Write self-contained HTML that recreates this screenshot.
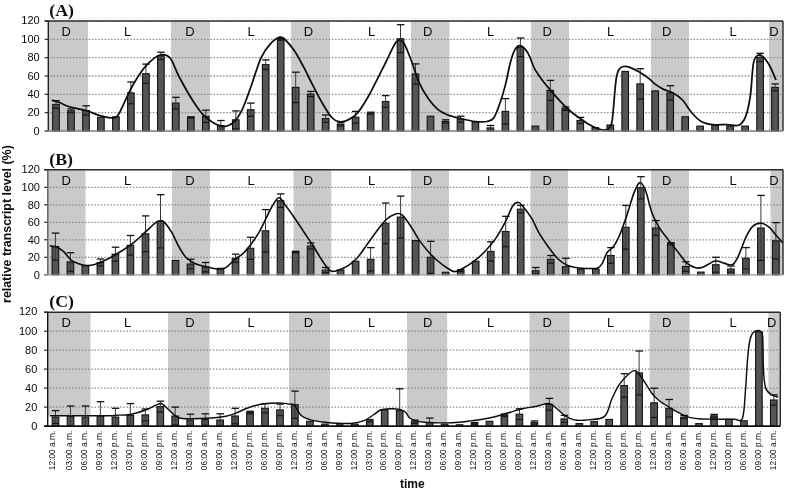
<!DOCTYPE html>
<html><head><meta charset="utf-8"><title>relative transcript level</title>
<style>html,body{margin:0;padding:0;background:#fff;}body{width:785px;height:491px;overflow:hidden;}svg{display:block;}.t{font-family:"Liberation Sans",Arial,sans-serif;fill:#0a0a0a;}.s{font-family:"Liberation Serif","Times New Roman",serif;font-weight:bold;fill:#111;}</style></head><body>
<svg width="785" height="491" viewBox="0 0 785 491">
<rect x="0" y="0" width="785" height="491" fill="#fff"/>
<line x1="50" y1="18.2" x2="782" y2="18.2" stroke="#e2e2e2" stroke-width="1" stroke-dasharray="1.5 1.7"/>
<g>
<rect x="48.3" y="21.0" width="39.7" height="110.0" fill="#cacaca"/>
<rect x="171.0" y="21.0" width="39.0" height="110.0" fill="#cacaca"/>
<rect x="291.0" y="21.0" width="39.0" height="110.0" fill="#cacaca"/>
<rect x="411.0" y="21.0" width="38.5" height="110.0" fill="#cacaca"/>
<rect x="531.0" y="21.0" width="38.0" height="110.0" fill="#cacaca"/>
<rect x="651.0" y="21.0" width="38.0" height="110.0" fill="#cacaca"/>
<rect x="769.0" y="21.0" width="14.0" height="110.0" fill="#cacaca"/>
<line x1="50.3" y1="112.7" x2="782.0" y2="112.7" stroke="#8a8a8a" stroke-width="1.3" stroke-dasharray="1.5 1.7"/>
<line x1="50.3" y1="94.3" x2="782.0" y2="94.3" stroke="#8a8a8a" stroke-width="1.3" stroke-dasharray="1.5 1.7"/>
<line x1="50.3" y1="76.0" x2="782.0" y2="76.0" stroke="#8a8a8a" stroke-width="1.3" stroke-dasharray="1.5 1.7"/>
<line x1="50.3" y1="57.7" x2="782.0" y2="57.7" stroke="#8a8a8a" stroke-width="1.3" stroke-dasharray="1.5 1.7"/>
<line x1="50.3" y1="39.3" x2="782.0" y2="39.3" stroke="#8a8a8a" stroke-width="1.3" stroke-dasharray="1.5 1.7"/>
<line x1="44.7" y1="131.0" x2="48.3" y2="131.0" stroke="#222" stroke-width="1.2"/>
<text class="t" transform="translate(39.7,134.8) scale(1.08,1)" font-size="10.2" text-anchor="end" fill="#000">0</text>
<line x1="44.7" y1="112.7" x2="48.3" y2="112.7" stroke="#222" stroke-width="1.2"/>
<text class="t" transform="translate(39.7,116.4) scale(1.08,1)" font-size="10.2" text-anchor="end" fill="#000">20</text>
<line x1="44.7" y1="94.3" x2="48.3" y2="94.3" stroke="#222" stroke-width="1.2"/>
<text class="t" transform="translate(39.7,98.1) scale(1.08,1)" font-size="10.2" text-anchor="end" fill="#000">40</text>
<line x1="44.7" y1="76.0" x2="48.3" y2="76.0" stroke="#222" stroke-width="1.2"/>
<text class="t" transform="translate(39.7,79.8) scale(1.08,1)" font-size="10.2" text-anchor="end" fill="#000">60</text>
<line x1="44.7" y1="57.7" x2="48.3" y2="57.7" stroke="#222" stroke-width="1.2"/>
<text class="t" transform="translate(39.7,61.4) scale(1.08,1)" font-size="10.2" text-anchor="end" fill="#000">80</text>
<line x1="44.7" y1="39.3" x2="48.3" y2="39.3" stroke="#222" stroke-width="1.2"/>
<text class="t" transform="translate(39.7,43.1) scale(1.08,1)" font-size="10.2" text-anchor="end" fill="#000">100</text>
<line x1="44.7" y1="21.0" x2="48.3" y2="21.0" stroke="#222" stroke-width="1.2"/>
<text class="t" transform="translate(39.7,23.8) scale(1.08,1)" font-size="10.2" text-anchor="end" fill="#000">120</text>
<text class="t" x="66.3" y="35.8" font-size="13" text-anchor="middle">D</text>
<text class="t" x="190.0" y="35.8" font-size="13" text-anchor="middle">D</text>
<text class="t" x="308.5" y="35.8" font-size="13" text-anchor="middle">D</text>
<text class="t" x="427.8" y="35.8" font-size="13" text-anchor="middle">D</text>
<text class="t" x="547.3" y="35.8" font-size="13" text-anchor="middle">D</text>
<text class="t" x="666.8" y="35.8" font-size="13" text-anchor="middle">D</text>
<text class="t" x="774.0" y="35.8" font-size="13" text-anchor="middle">D</text>
<text class="t" x="127.6" y="35.8" font-size="13" text-anchor="middle">L</text>
<text class="t" x="251.0" y="35.8" font-size="13" text-anchor="middle">L</text>
<text class="t" x="371.7" y="35.8" font-size="13" text-anchor="middle">L</text>
<text class="t" x="490.5" y="35.8" font-size="13" text-anchor="middle">L</text>
<text class="t" x="610.5" y="35.8" font-size="13" text-anchor="middle">L</text>
<text class="t" x="733.0" y="35.8" font-size="13" text-anchor="middle">L</text>
<rect x="52.7" y="104.4" width="6.6" height="26.6" fill="#555555" stroke="#111" stroke-width="1.1"/>
<line x1="56.0" y1="100.8" x2="56.0" y2="108.1" stroke="#3a3a3a" stroke-width="1"/>
<line x1="52.4" y1="100.8" x2="59.9" y2="100.8" stroke="#111" stroke-width="1.3"/>
<line x1="52.9" y1="108.1" x2="59.1" y2="108.1" stroke="#111" stroke-width="1.1"/>
<rect x="67.7" y="110.8" width="6.6" height="20.2" fill="#555555" stroke="#111" stroke-width="1.1"/>
<line x1="71.0" y1="109.0" x2="71.0" y2="112.7" stroke="#3a3a3a" stroke-width="1"/>
<line x1="67.4" y1="109.0" x2="74.9" y2="109.0" stroke="#111" stroke-width="1.3"/>
<line x1="67.9" y1="112.7" x2="74.1" y2="112.7" stroke="#111" stroke-width="1.1"/>
<rect x="82.7" y="110.5" width="6.6" height="20.5" fill="#555555" stroke="#111" stroke-width="1.1"/>
<line x1="86.0" y1="105.8" x2="86.0" y2="115.1" stroke="#3a3a3a" stroke-width="1"/>
<line x1="82.4" y1="105.8" x2="89.9" y2="105.8" stroke="#111" stroke-width="1.3"/>
<line x1="82.9" y1="115.1" x2="89.1" y2="115.1" stroke="#111" stroke-width="1.1"/>
<rect x="97.6" y="117.2" width="6.6" height="13.8" fill="#555555" stroke="#111" stroke-width="1.1"/>
<rect x="112.6" y="116.8" width="6.6" height="14.2" fill="#555555" stroke="#111" stroke-width="1.1"/>
<rect x="127.6" y="92.9" width="6.6" height="38.1" fill="#555555" stroke="#111" stroke-width="1.1"/>
<line x1="130.9" y1="82.0" x2="130.9" y2="103.8" stroke="#3a3a3a" stroke-width="1"/>
<line x1="127.3" y1="82.0" x2="134.8" y2="82.0" stroke="#111" stroke-width="1.3"/>
<line x1="127.8" y1="103.8" x2="134.0" y2="103.8" stroke="#111" stroke-width="1.1"/>
<rect x="142.6" y="73.7" width="6.6" height="57.3" fill="#555555" stroke="#111" stroke-width="1.1"/>
<line x1="145.9" y1="64.1" x2="145.9" y2="83.3" stroke="#3a3a3a" stroke-width="1"/>
<line x1="142.3" y1="64.1" x2="149.8" y2="64.1" stroke="#111" stroke-width="1.3"/>
<line x1="142.8" y1="83.3" x2="149.0" y2="83.3" stroke="#111" stroke-width="1.1"/>
<rect x="157.6" y="55.8" width="6.6" height="75.2" fill="#555555" stroke="#111" stroke-width="1.1"/>
<line x1="160.9" y1="52.2" x2="160.9" y2="59.5" stroke="#3a3a3a" stroke-width="1"/>
<line x1="157.3" y1="52.2" x2="164.8" y2="52.2" stroke="#111" stroke-width="1.3"/>
<line x1="157.8" y1="59.5" x2="164.0" y2="59.5" stroke="#111" stroke-width="1.1"/>
<rect x="172.5" y="103.1" width="6.6" height="27.9" fill="#555555" stroke="#111" stroke-width="1.1"/>
<line x1="175.8" y1="97.3" x2="175.8" y2="109.0" stroke="#3a3a3a" stroke-width="1"/>
<line x1="172.2" y1="97.3" x2="179.7" y2="97.3" stroke="#111" stroke-width="1.3"/>
<line x1="172.7" y1="109.0" x2="178.9" y2="109.0" stroke="#111" stroke-width="1.1"/>
<rect x="187.5" y="117.4" width="6.6" height="13.6" fill="#555555" stroke="#111" stroke-width="1.1"/>
<line x1="190.8" y1="116.8" x2="190.8" y2="118.1" stroke="#3a3a3a" stroke-width="1"/>
<line x1="187.2" y1="116.8" x2="194.7" y2="116.8" stroke="#111" stroke-width="1.3"/>
<line x1="187.7" y1="118.1" x2="193.9" y2="118.1" stroke="#111" stroke-width="1.1"/>
<rect x="202.5" y="116.3" width="6.6" height="14.7" fill="#555555" stroke="#111" stroke-width="1.1"/>
<line x1="205.8" y1="110.2" x2="205.8" y2="122.5" stroke="#3a3a3a" stroke-width="1"/>
<line x1="202.2" y1="110.2" x2="209.7" y2="110.2" stroke="#111" stroke-width="1.3"/>
<line x1="202.7" y1="122.5" x2="208.9" y2="122.5" stroke="#111" stroke-width="1.1"/>
<rect x="217.5" y="125.5" width="6.6" height="5.5" fill="#555555" stroke="#111" stroke-width="1.1"/>
<line x1="220.8" y1="120.5" x2="220.8" y2="130.4" stroke="#3a3a3a" stroke-width="1"/>
<line x1="217.2" y1="120.5" x2="224.7" y2="120.5" stroke="#111" stroke-width="1.3"/>
<line x1="217.7" y1="130.4" x2="223.9" y2="130.4" stroke="#111" stroke-width="1.1"/>
<rect x="232.5" y="119.8" width="6.6" height="11.2" fill="#555555" stroke="#111" stroke-width="1.1"/>
<line x1="235.8" y1="110.9" x2="235.8" y2="128.7" stroke="#3a3a3a" stroke-width="1"/>
<line x1="232.2" y1="110.9" x2="239.7" y2="110.9" stroke="#111" stroke-width="1.3"/>
<line x1="232.7" y1="128.7" x2="238.9" y2="128.7" stroke="#111" stroke-width="1.1"/>
<rect x="247.4" y="109.7" width="6.6" height="21.3" fill="#555555" stroke="#111" stroke-width="1.1"/>
<line x1="250.7" y1="103.1" x2="250.7" y2="116.3" stroke="#3a3a3a" stroke-width="1"/>
<line x1="247.1" y1="103.1" x2="254.6" y2="103.1" stroke="#111" stroke-width="1.3"/>
<line x1="247.6" y1="116.3" x2="253.8" y2="116.3" stroke="#111" stroke-width="1.1"/>
<rect x="262.4" y="64.6" width="6.6" height="66.4" fill="#555555" stroke="#111" stroke-width="1.1"/>
<line x1="265.7" y1="59.9" x2="265.7" y2="69.4" stroke="#3a3a3a" stroke-width="1"/>
<line x1="262.1" y1="59.9" x2="269.6" y2="59.9" stroke="#111" stroke-width="1.3"/>
<line x1="262.6" y1="69.4" x2="268.8" y2="69.4" stroke="#111" stroke-width="1.1"/>
<rect x="277.4" y="39.3" width="6.6" height="91.7" fill="#555555" stroke="#111" stroke-width="1.1"/>
<line x1="280.7" y1="38.4" x2="280.7" y2="40.2" stroke="#3a3a3a" stroke-width="1"/>
<line x1="277.1" y1="38.4" x2="284.6" y2="38.4" stroke="#111" stroke-width="1.3"/>
<line x1="277.6" y1="40.2" x2="283.8" y2="40.2" stroke="#111" stroke-width="1.1"/>
<rect x="292.4" y="87.4" width="6.6" height="43.6" fill="#555555" stroke="#111" stroke-width="1.1"/>
<line x1="295.7" y1="72.2" x2="295.7" y2="102.6" stroke="#3a3a3a" stroke-width="1"/>
<line x1="292.1" y1="72.2" x2="299.6" y2="72.2" stroke="#111" stroke-width="1.3"/>
<line x1="292.6" y1="102.6" x2="298.8" y2="102.6" stroke="#111" stroke-width="1.1"/>
<rect x="307.4" y="94.0" width="6.6" height="37.0" fill="#555555" stroke="#111" stroke-width="1.1"/>
<line x1="310.7" y1="91.4" x2="310.7" y2="96.5" stroke="#3a3a3a" stroke-width="1"/>
<line x1="307.1" y1="91.4" x2="314.6" y2="91.4" stroke="#111" stroke-width="1.3"/>
<line x1="307.6" y1="96.5" x2="313.8" y2="96.5" stroke="#111" stroke-width="1.1"/>
<rect x="322.3" y="118.6" width="6.6" height="12.4" fill="#555555" stroke="#111" stroke-width="1.1"/>
<line x1="325.6" y1="115.0" x2="325.6" y2="122.3" stroke="#3a3a3a" stroke-width="1"/>
<line x1="322.0" y1="115.0" x2="329.5" y2="115.0" stroke="#111" stroke-width="1.3"/>
<line x1="322.5" y1="122.3" x2="328.7" y2="122.3" stroke="#111" stroke-width="1.1"/>
<rect x="337.3" y="124.4" width="6.6" height="6.6" fill="#555555" stroke="#111" stroke-width="1.1"/>
<line x1="340.6" y1="122.8" x2="340.6" y2="126.0" stroke="#3a3a3a" stroke-width="1"/>
<line x1="337.0" y1="122.8" x2="344.5" y2="122.8" stroke="#111" stroke-width="1.3"/>
<line x1="337.5" y1="126.0" x2="343.7" y2="126.0" stroke="#111" stroke-width="1.1"/>
<rect x="352.3" y="117.2" width="6.6" height="13.8" fill="#555555" stroke="#111" stroke-width="1.1"/>
<line x1="355.6" y1="111.4" x2="355.6" y2="123.1" stroke="#3a3a3a" stroke-width="1"/>
<line x1="352.0" y1="111.4" x2="359.5" y2="111.4" stroke="#111" stroke-width="1.3"/>
<line x1="352.5" y1="123.1" x2="358.7" y2="123.1" stroke="#111" stroke-width="1.1"/>
<rect x="367.3" y="113.2" width="6.6" height="17.8" fill="#555555" stroke="#111" stroke-width="1.1"/>
<line x1="370.6" y1="112.2" x2="370.6" y2="114.2" stroke="#3a3a3a" stroke-width="1"/>
<line x1="367.0" y1="112.2" x2="374.5" y2="112.2" stroke="#111" stroke-width="1.3"/>
<line x1="367.5" y1="114.2" x2="373.7" y2="114.2" stroke="#111" stroke-width="1.1"/>
<rect x="382.3" y="101.5" width="6.6" height="29.5" fill="#555555" stroke="#111" stroke-width="1.1"/>
<line x1="385.6" y1="95.6" x2="385.6" y2="107.3" stroke="#3a3a3a" stroke-width="1"/>
<line x1="382.0" y1="95.6" x2="389.5" y2="95.6" stroke="#111" stroke-width="1.3"/>
<line x1="382.5" y1="107.3" x2="388.7" y2="107.3" stroke="#111" stroke-width="1.1"/>
<rect x="397.2" y="38.7" width="6.6" height="92.3" fill="#555555" stroke="#111" stroke-width="1.1"/>
<line x1="400.5" y1="24.7" x2="400.5" y2="52.7" stroke="#3a3a3a" stroke-width="1"/>
<line x1="396.9" y1="24.7" x2="404.4" y2="24.7" stroke="#111" stroke-width="1.3"/>
<line x1="397.4" y1="52.7" x2="403.6" y2="52.7" stroke="#111" stroke-width="1.1"/>
<rect x="412.2" y="74.0" width="6.6" height="57.0" fill="#555555" stroke="#111" stroke-width="1.1"/>
<line x1="415.5" y1="63.9" x2="415.5" y2="84.1" stroke="#3a3a3a" stroke-width="1"/>
<line x1="411.9" y1="63.9" x2="419.4" y2="63.9" stroke="#111" stroke-width="1.3"/>
<line x1="412.4" y1="84.1" x2="418.6" y2="84.1" stroke="#111" stroke-width="1.1"/>
<rect x="427.2" y="116.2" width="6.6" height="14.8" fill="#555555" stroke="#111" stroke-width="1.1"/>
<rect x="442.2" y="121.5" width="6.6" height="9.5" fill="#555555" stroke="#111" stroke-width="1.1"/>
<line x1="445.5" y1="119.8" x2="445.5" y2="123.1" stroke="#3a3a3a" stroke-width="1"/>
<line x1="441.9" y1="119.8" x2="449.4" y2="119.8" stroke="#111" stroke-width="1.3"/>
<line x1="442.4" y1="123.1" x2="448.6" y2="123.1" stroke="#111" stroke-width="1.1"/>
<rect x="457.2" y="119.2" width="6.6" height="11.8" fill="#555555" stroke="#111" stroke-width="1.1"/>
<line x1="460.5" y1="116.2" x2="460.5" y2="122.2" stroke="#3a3a3a" stroke-width="1"/>
<line x1="456.9" y1="116.2" x2="464.4" y2="116.2" stroke="#111" stroke-width="1.3"/>
<line x1="457.4" y1="122.2" x2="463.6" y2="122.2" stroke="#111" stroke-width="1.1"/>
<rect x="472.1" y="121.9" width="6.6" height="9.1" fill="#555555" stroke="#111" stroke-width="1.1"/>
<rect x="487.1" y="127.9" width="6.6" height="3.1" fill="#555555" stroke="#111" stroke-width="1.1"/>
<line x1="490.4" y1="125.5" x2="490.4" y2="130.3" stroke="#3a3a3a" stroke-width="1"/>
<line x1="486.8" y1="125.5" x2="494.3" y2="125.5" stroke="#111" stroke-width="1.3"/>
<line x1="487.3" y1="130.3" x2="493.5" y2="130.3" stroke="#111" stroke-width="1.1"/>
<rect x="502.1" y="111.4" width="6.6" height="19.6" fill="#555555" stroke="#111" stroke-width="1.1"/>
<line x1="505.4" y1="98.6" x2="505.4" y2="124.1" stroke="#3a3a3a" stroke-width="1"/>
<line x1="501.8" y1="98.6" x2="509.3" y2="98.6" stroke="#111" stroke-width="1.3"/>
<line x1="502.3" y1="124.1" x2="508.5" y2="124.1" stroke="#111" stroke-width="1.1"/>
<rect x="517.1" y="47.4" width="6.6" height="83.6" fill="#555555" stroke="#111" stroke-width="1.1"/>
<line x1="520.4" y1="38.0" x2="520.4" y2="56.8" stroke="#3a3a3a" stroke-width="1"/>
<line x1="516.8" y1="38.0" x2="524.3" y2="38.0" stroke="#111" stroke-width="1.3"/>
<line x1="517.3" y1="56.8" x2="523.5" y2="56.8" stroke="#111" stroke-width="1.1"/>
<rect x="532.1" y="126.1" width="6.6" height="4.9" fill="#555555" stroke="#111" stroke-width="1.1"/>
<rect x="547.0" y="90.4" width="6.6" height="40.6" fill="#555555" stroke="#111" stroke-width="1.1"/>
<line x1="550.3" y1="80.4" x2="550.3" y2="100.4" stroke="#3a3a3a" stroke-width="1"/>
<line x1="546.7" y1="80.4" x2="554.2" y2="80.4" stroke="#111" stroke-width="1.3"/>
<line x1="547.2" y1="100.4" x2="553.4" y2="100.4" stroke="#111" stroke-width="1.1"/>
<rect x="562.0" y="108.6" width="6.6" height="22.4" fill="#555555" stroke="#111" stroke-width="1.1"/>
<line x1="565.3" y1="106.9" x2="565.3" y2="110.4" stroke="#3a3a3a" stroke-width="1"/>
<line x1="561.7" y1="106.9" x2="569.2" y2="106.9" stroke="#111" stroke-width="1.3"/>
<line x1="562.2" y1="110.4" x2="568.4" y2="110.4" stroke="#111" stroke-width="1.1"/>
<rect x="577.0" y="120.4" width="6.6" height="10.6" fill="#555555" stroke="#111" stroke-width="1.1"/>
<line x1="580.3" y1="117.4" x2="580.3" y2="123.3" stroke="#3a3a3a" stroke-width="1"/>
<line x1="576.7" y1="117.4" x2="584.2" y2="117.4" stroke="#111" stroke-width="1.3"/>
<line x1="577.2" y1="123.3" x2="583.4" y2="123.3" stroke="#111" stroke-width="1.1"/>
<rect x="592.0" y="127.6" width="6.6" height="3.4" fill="#555555" stroke="#111" stroke-width="1.1"/>
<rect x="607.0" y="125.0" width="6.6" height="6.0" fill="#555555" stroke="#111" stroke-width="1.1"/>
<rect x="621.9" y="71.4" width="6.6" height="59.6" fill="#555555" stroke="#111" stroke-width="1.1"/>
<rect x="636.9" y="83.9" width="6.6" height="47.1" fill="#555555" stroke="#111" stroke-width="1.1"/>
<line x1="640.2" y1="68.7" x2="640.2" y2="99.1" stroke="#3a3a3a" stroke-width="1"/>
<line x1="636.6" y1="68.7" x2="644.1" y2="68.7" stroke="#111" stroke-width="1.3"/>
<line x1="637.1" y1="99.1" x2="643.3" y2="99.1" stroke="#111" stroke-width="1.1"/>
<rect x="651.9" y="90.9" width="6.6" height="40.1" fill="#555555" stroke="#111" stroke-width="1.1"/>
<rect x="666.9" y="92.9" width="6.6" height="38.1" fill="#555555" stroke="#111" stroke-width="1.1"/>
<line x1="670.2" y1="85.7" x2="670.2" y2="100.0" stroke="#3a3a3a" stroke-width="1"/>
<line x1="666.6" y1="85.7" x2="674.1" y2="85.7" stroke="#111" stroke-width="1.3"/>
<line x1="667.1" y1="100.0" x2="673.3" y2="100.0" stroke="#111" stroke-width="1.1"/>
<rect x="681.9" y="116.8" width="6.6" height="14.2" fill="#555555" stroke="#111" stroke-width="1.1"/>
<rect x="696.8" y="126.1" width="6.6" height="4.9" fill="#555555" stroke="#111" stroke-width="1.1"/>
<rect x="711.8" y="125.0" width="6.6" height="6.0" fill="#555555" stroke="#111" stroke-width="1.1"/>
<rect x="726.8" y="126.1" width="6.6" height="4.9" fill="#555555" stroke="#111" stroke-width="1.1"/>
<rect x="741.8" y="126.1" width="6.6" height="4.9" fill="#555555" stroke="#111" stroke-width="1.1"/>
<rect x="756.8" y="57.5" width="6.6" height="73.5" fill="#555555" stroke="#111" stroke-width="1.1"/>
<line x1="760.1" y1="53.3" x2="760.1" y2="61.7" stroke="#3a3a3a" stroke-width="1"/>
<line x1="756.5" y1="53.3" x2="764.0" y2="53.3" stroke="#111" stroke-width="1.3"/>
<line x1="757.0" y1="61.7" x2="763.2" y2="61.7" stroke="#111" stroke-width="1.1"/>
<rect x="771.7" y="87.4" width="6.6" height="43.6" fill="#555555" stroke="#111" stroke-width="1.1"/>
<line x1="775.0" y1="83.9" x2="775.0" y2="90.8" stroke="#3a3a3a" stroke-width="1"/>
<line x1="771.4" y1="83.9" x2="778.9" y2="83.9" stroke="#111" stroke-width="1.3"/>
<line x1="771.9" y1="90.8" x2="778.1" y2="90.8" stroke="#111" stroke-width="1.1"/>
<path d="M51.8,100.2 C53.2,100.6 57.2,101.8 60.0,102.8 C62.8,103.8 64.1,105.2 68.4,106.5 C72.7,107.8 80.6,108.9 86.0,110.5 C91.4,112.1 96.1,114.7 101.0,115.9 C105.9,117.1 111.8,119.0 115.3,117.5 C118.8,116.0 120.0,111.3 122.3,107.0 C124.6,102.7 126.6,97.1 129.3,91.8 C132.0,86.5 135.6,80.1 138.7,75.4 C141.8,70.7 144.5,67.1 148.0,63.7 C151.5,60.3 156.1,56.0 159.8,55.0 C163.5,54.0 166.8,54.2 170.0,57.8 C173.2,61.4 175.2,69.3 179.0,76.5 C182.8,83.7 188.7,94.3 193.0,101.0 C197.3,107.7 200.1,112.2 204.8,116.4 C209.5,120.6 216.5,125.1 221.2,126.2 C225.9,127.3 229.4,125.7 232.9,122.9 C236.4,120.1 239.2,115.7 242.3,109.3 C245.4,102.9 248.5,93.3 251.6,84.7 C254.7,76.1 257.9,64.6 261.0,57.8 C264.1,51.0 267.3,47.2 270.4,43.8 C273.5,40.4 277.4,37.9 279.8,37.2 C282.2,36.5 282.6,37.2 285.0,39.5 C287.4,41.8 291.3,46.2 294.4,50.8 C297.5,55.4 300.6,61.4 303.7,67.2 C306.8,73.1 310.0,79.9 313.1,85.9 C316.2,92.0 319.4,98.2 322.5,103.5 C325.6,108.8 329.1,114.5 331.8,117.5 C334.5,120.5 336.2,121.3 338.9,121.7 C341.6,122.1 345.1,121.4 348.2,119.9 C351.3,118.4 354.5,116.3 357.6,112.8 C360.7,109.3 363.9,104.1 367.0,98.8 C370.1,93.5 373.2,87.2 376.3,81.2 C379.4,75.2 382.6,68.7 385.7,62.5 C388.8,56.3 392.6,47.5 395.0,43.8 C397.4,40.1 398.2,40.1 399.8,40.2 C401.4,40.3 402.4,40.5 404.4,44.2 C406.4,47.9 409.6,56.1 412.0,62.5 C414.4,68.9 416.3,76.4 419.0,82.4 C421.7,88.5 425.3,94.3 428.4,98.8 C431.5,103.3 434.7,106.6 437.8,109.3 C440.9,112.0 443.3,113.1 447.2,114.7 C451.1,116.3 456.5,117.6 461.2,118.7 C465.9,119.8 471.0,121.0 475.3,121.5 C479.6,122.0 483.9,122.2 487.0,121.5 C490.1,120.8 491.7,121.1 494.0,117.5 C496.3,113.9 499.1,105.7 501.0,100.0 C502.9,94.3 504.1,89.8 505.7,83.6 C507.3,77.3 508.8,68.2 510.4,62.5 C511.9,56.8 513.4,52.4 515.0,49.6 C516.6,46.8 518.0,45.6 519.8,45.6 C521.6,45.6 524.0,47.8 525.6,49.6 C527.2,51.4 528.2,53.5 529.7,56.6 C531.2,59.7 532.5,64.7 534.4,68.4 C536.3,72.1 538.7,75.2 541.4,78.9 C544.1,82.6 547.7,86.9 550.8,90.6 C553.9,94.3 557.0,97.8 560.1,101.1 C563.2,104.4 566.4,107.8 569.5,110.5 C572.6,113.2 575.8,115.3 578.9,117.5 C582.0,119.7 585.1,122.1 588.2,123.9 C591.3,125.7 595.1,127.5 597.6,128.5 C600.1,129.5 601.3,129.9 603.0,130.0 C604.7,130.1 606.6,130.0 608.0,129.0 C609.4,128.0 610.6,127.2 611.5,124.0 C612.4,120.8 612.8,115.3 613.3,110.0 C613.8,104.7 614.3,97.5 614.8,92.0 C615.3,86.5 615.8,80.8 616.5,77.0 C617.2,73.2 617.9,71.2 619.0,69.5 C620.1,67.8 621.5,66.8 623.4,66.5 C625.3,66.2 627.7,66.6 630.4,67.6 C633.1,68.6 636.5,70.3 639.8,72.3 C643.1,74.3 647.6,77.5 650.0,79.4 C652.4,81.3 652.1,81.9 654.4,83.6 C656.7,85.3 660.6,87.8 663.7,89.4 C666.8,91.0 670.0,91.2 673.1,93.0 C676.2,94.8 679.4,96.7 682.5,100.0 C685.6,103.3 688.7,109.2 691.8,112.8 C694.9,116.4 697.7,119.5 701.2,121.5 C704.7,123.5 708.6,124.1 712.9,124.6 C717.2,125.1 722.7,124.5 727.0,124.6 C731.3,124.7 735.6,126.7 738.7,125.3 C741.8,123.9 743.8,121.4 745.7,116.4 C747.7,111.4 749.1,103.9 750.4,95.3 C751.6,86.7 752.2,71.2 753.2,64.8 C754.2,58.3 754.7,58.1 756.2,56.6 C757.7,55.1 760.0,54.5 762.1,55.9 C764.2,57.3 766.8,60.8 769.1,64.8 C771.4,68.8 774.9,77.5 776.0,80.0" fill="none" stroke="#0d0d0d" stroke-width="1.75" stroke-linejoin="round"/>
<line x1="44.7" y1="21.0" x2="783.0" y2="21.0" stroke="#2a2a2a" stroke-width="1.6"/>
<line x1="783.0" y1="21.0" x2="783.0" y2="131.0" stroke="#2a2a2a" stroke-width="1.4"/>
<line x1="48.3" y1="21.0" x2="48.3" y2="131.0" stroke="#222" stroke-width="1.4"/>
<line x1="44.7" y1="131.0" x2="783.0" y2="131.0" stroke="#7a7a7a" stroke-width="1.4"/>
<text class="s" transform="translate(49.3,15.5) scale(1.1,1)" font-size="16.2">(A)</text>
</g>
<g>
<rect x="47.8" y="169.8" width="37.7" height="105.0" fill="#cacaca"/>
<rect x="172.0" y="169.8" width="38.0" height="105.0" fill="#cacaca"/>
<rect x="293.5" y="169.8" width="37.9" height="105.0" fill="#cacaca"/>
<rect x="411.0" y="169.8" width="38.0" height="105.0" fill="#cacaca"/>
<rect x="530.5" y="169.8" width="37.5" height="105.0" fill="#cacaca"/>
<rect x="651.0" y="169.8" width="38.0" height="105.0" fill="#cacaca"/>
<rect x="770.5" y="169.8" width="12.5" height="105.0" fill="#cacaca"/>
<line x1="49.8" y1="257.3" x2="782.0" y2="257.3" stroke="#8a8a8a" stroke-width="1.3" stroke-dasharray="1.5 1.7"/>
<line x1="49.8" y1="239.8" x2="782.0" y2="239.8" stroke="#8a8a8a" stroke-width="1.3" stroke-dasharray="1.5 1.7"/>
<line x1="49.8" y1="222.3" x2="782.0" y2="222.3" stroke="#8a8a8a" stroke-width="1.3" stroke-dasharray="1.5 1.7"/>
<line x1="49.8" y1="204.8" x2="782.0" y2="204.8" stroke="#8a8a8a" stroke-width="1.3" stroke-dasharray="1.5 1.7"/>
<line x1="49.8" y1="187.3" x2="782.0" y2="187.3" stroke="#8a8a8a" stroke-width="1.3" stroke-dasharray="1.5 1.7"/>
<line x1="44.2" y1="274.8" x2="47.8" y2="274.8" stroke="#222" stroke-width="1.2"/>
<text class="t" transform="translate(39.9,278.6) scale(1.08,1)" font-size="10.2" text-anchor="end" fill="#000">0</text>
<line x1="44.2" y1="257.3" x2="47.8" y2="257.3" stroke="#222" stroke-width="1.2"/>
<text class="t" transform="translate(39.9,261.1) scale(1.08,1)" font-size="10.2" text-anchor="end" fill="#000">20</text>
<line x1="44.2" y1="239.8" x2="47.8" y2="239.8" stroke="#222" stroke-width="1.2"/>
<text class="t" transform="translate(39.9,243.6) scale(1.08,1)" font-size="10.2" text-anchor="end" fill="#000">40</text>
<line x1="44.2" y1="222.3" x2="47.8" y2="222.3" stroke="#222" stroke-width="1.2"/>
<text class="t" transform="translate(39.9,226.1) scale(1.08,1)" font-size="10.2" text-anchor="end" fill="#000">60</text>
<line x1="44.2" y1="204.8" x2="47.8" y2="204.8" stroke="#222" stroke-width="1.2"/>
<text class="t" transform="translate(39.9,208.6) scale(1.08,1)" font-size="10.2" text-anchor="end" fill="#000">80</text>
<line x1="44.2" y1="187.3" x2="47.8" y2="187.3" stroke="#222" stroke-width="1.2"/>
<text class="t" transform="translate(39.9,191.1) scale(1.08,1)" font-size="10.2" text-anchor="end" fill="#000">100</text>
<line x1="44.2" y1="169.8" x2="47.8" y2="169.8" stroke="#222" stroke-width="1.2"/>
<text class="t" transform="translate(39.9,172.6) scale(1.08,1)" font-size="10.2" text-anchor="end" fill="#000">120</text>
<text class="t" x="66.3" y="184.6" font-size="13" text-anchor="middle">D</text>
<text class="t" x="190.0" y="184.6" font-size="13" text-anchor="middle">D</text>
<text class="t" x="308.5" y="184.6" font-size="13" text-anchor="middle">D</text>
<text class="t" x="427.8" y="184.6" font-size="13" text-anchor="middle">D</text>
<text class="t" x="547.3" y="184.6" font-size="13" text-anchor="middle">D</text>
<text class="t" x="666.8" y="184.6" font-size="13" text-anchor="middle">D</text>
<text class="t" x="774.0" y="184.6" font-size="13" text-anchor="middle">D</text>
<text class="t" x="127.6" y="184.6" font-size="13" text-anchor="middle">L</text>
<text class="t" x="251.0" y="184.6" font-size="13" text-anchor="middle">L</text>
<text class="t" x="371.7" y="184.6" font-size="13" text-anchor="middle">L</text>
<text class="t" x="490.5" y="184.6" font-size="13" text-anchor="middle">L</text>
<text class="t" x="610.5" y="184.6" font-size="13" text-anchor="middle">L</text>
<text class="t" x="733.0" y="184.6" font-size="13" text-anchor="middle">L</text>
<rect x="52.1" y="246.5" width="6.6" height="28.3" fill="#555555" stroke="#111" stroke-width="1.1"/>
<line x1="55.4" y1="233.1" x2="55.4" y2="260.0" stroke="#3a3a3a" stroke-width="1"/>
<line x1="51.8" y1="233.1" x2="59.3" y2="233.1" stroke="#111" stroke-width="1.3"/>
<line x1="52.3" y1="260.0" x2="58.5" y2="260.0" stroke="#111" stroke-width="1.1"/>
<rect x="67.1" y="261.9" width="6.6" height="12.9" fill="#555555" stroke="#111" stroke-width="1.1"/>
<line x1="70.4" y1="252.7" x2="70.4" y2="271.2" stroke="#3a3a3a" stroke-width="1"/>
<line x1="66.8" y1="252.7" x2="74.3" y2="252.7" stroke="#111" stroke-width="1.3"/>
<line x1="67.3" y1="271.2" x2="73.5" y2="271.2" stroke="#111" stroke-width="1.1"/>
<rect x="82.1" y="265.3" width="6.6" height="9.5" fill="#555555" stroke="#111" stroke-width="1.1"/>
<rect x="97.1" y="262.5" width="6.6" height="12.3" fill="#555555" stroke="#111" stroke-width="1.1"/>
<line x1="100.4" y1="259.0" x2="100.4" y2="266.0" stroke="#3a3a3a" stroke-width="1"/>
<line x1="96.8" y1="259.0" x2="104.3" y2="259.0" stroke="#111" stroke-width="1.3"/>
<line x1="97.3" y1="266.0" x2="103.5" y2="266.0" stroke="#111" stroke-width="1.1"/>
<rect x="112.1" y="254.2" width="6.6" height="20.6" fill="#555555" stroke="#111" stroke-width="1.1"/>
<line x1="115.4" y1="247.2" x2="115.4" y2="261.2" stroke="#3a3a3a" stroke-width="1"/>
<line x1="111.8" y1="247.2" x2="119.3" y2="247.2" stroke="#111" stroke-width="1.3"/>
<line x1="112.3" y1="261.2" x2="118.5" y2="261.2" stroke="#111" stroke-width="1.1"/>
<rect x="127.1" y="245.3" width="6.6" height="29.5" fill="#555555" stroke="#111" stroke-width="1.1"/>
<line x1="130.4" y1="235.5" x2="130.4" y2="255.1" stroke="#3a3a3a" stroke-width="1"/>
<line x1="126.8" y1="235.5" x2="134.3" y2="235.5" stroke="#111" stroke-width="1.3"/>
<line x1="127.3" y1="255.1" x2="133.5" y2="255.1" stroke="#111" stroke-width="1.1"/>
<rect x="142.2" y="233.8" width="6.6" height="41.0" fill="#555555" stroke="#111" stroke-width="1.1"/>
<line x1="145.5" y1="215.9" x2="145.5" y2="251.6" stroke="#3a3a3a" stroke-width="1"/>
<line x1="141.9" y1="215.9" x2="149.4" y2="215.9" stroke="#111" stroke-width="1.3"/>
<line x1="142.4" y1="251.6" x2="148.6" y2="251.6" stroke="#111" stroke-width="1.1"/>
<rect x="157.2" y="221.3" width="6.6" height="53.5" fill="#555555" stroke="#111" stroke-width="1.1"/>
<line x1="160.5" y1="194.7" x2="160.5" y2="247.9" stroke="#3a3a3a" stroke-width="1"/>
<line x1="156.9" y1="194.7" x2="164.4" y2="194.7" stroke="#111" stroke-width="1.3"/>
<line x1="157.4" y1="247.9" x2="163.6" y2="247.9" stroke="#111" stroke-width="1.1"/>
<rect x="172.2" y="260.5" width="6.6" height="14.3" fill="#555555" stroke="#111" stroke-width="1.1"/>
<rect x="187.2" y="264.0" width="6.6" height="10.8" fill="#555555" stroke="#111" stroke-width="1.1"/>
<line x1="190.5" y1="259.3" x2="190.5" y2="268.8" stroke="#3a3a3a" stroke-width="1"/>
<line x1="186.9" y1="259.3" x2="194.4" y2="259.3" stroke="#111" stroke-width="1.3"/>
<line x1="187.4" y1="268.8" x2="193.6" y2="268.8" stroke="#111" stroke-width="1.1"/>
<rect x="202.2" y="267.2" width="6.6" height="7.6" fill="#555555" stroke="#111" stroke-width="1.1"/>
<line x1="205.5" y1="262.5" x2="205.5" y2="271.9" stroke="#3a3a3a" stroke-width="1"/>
<line x1="201.9" y1="262.5" x2="209.4" y2="262.5" stroke="#111" stroke-width="1.3"/>
<line x1="202.4" y1="271.9" x2="208.6" y2="271.9" stroke="#111" stroke-width="1.1"/>
<rect x="217.2" y="268.3" width="6.6" height="6.5" fill="#555555" stroke="#111" stroke-width="1.1"/>
<rect x="232.2" y="258.3" width="6.6" height="16.5" fill="#555555" stroke="#111" stroke-width="1.1"/>
<line x1="235.5" y1="254.2" x2="235.5" y2="262.3" stroke="#3a3a3a" stroke-width="1"/>
<line x1="231.9" y1="254.2" x2="239.4" y2="254.2" stroke="#111" stroke-width="1.3"/>
<line x1="232.4" y1="262.3" x2="238.6" y2="262.3" stroke="#111" stroke-width="1.1"/>
<rect x="247.2" y="248.3" width="6.6" height="26.5" fill="#555555" stroke="#111" stroke-width="1.1"/>
<line x1="250.5" y1="237.3" x2="250.5" y2="259.3" stroke="#3a3a3a" stroke-width="1"/>
<line x1="246.9" y1="237.3" x2="254.4" y2="237.3" stroke="#111" stroke-width="1.3"/>
<line x1="247.4" y1="259.3" x2="253.6" y2="259.3" stroke="#111" stroke-width="1.1"/>
<rect x="262.2" y="230.8" width="6.6" height="44.0" fill="#555555" stroke="#111" stroke-width="1.1"/>
<line x1="265.5" y1="209.6" x2="265.5" y2="252.0" stroke="#3a3a3a" stroke-width="1"/>
<line x1="261.9" y1="209.6" x2="269.4" y2="209.6" stroke="#111" stroke-width="1.3"/>
<line x1="262.4" y1="252.0" x2="268.6" y2="252.0" stroke="#111" stroke-width="1.1"/>
<rect x="277.2" y="200.7" width="6.6" height="74.1" fill="#555555" stroke="#111" stroke-width="1.1"/>
<line x1="280.6" y1="193.9" x2="280.6" y2="207.5" stroke="#3a3a3a" stroke-width="1"/>
<line x1="276.9" y1="193.9" x2="284.4" y2="193.9" stroke="#111" stroke-width="1.3"/>
<line x1="277.4" y1="207.5" x2="283.7" y2="207.5" stroke="#111" stroke-width="1.1"/>
<rect x="292.3" y="252.0" width="6.6" height="22.8" fill="#555555" stroke="#111" stroke-width="1.1"/>
<line x1="295.6" y1="251.3" x2="295.6" y2="252.7" stroke="#3a3a3a" stroke-width="1"/>
<line x1="292.0" y1="251.3" x2="299.5" y2="251.3" stroke="#111" stroke-width="1.3"/>
<line x1="292.5" y1="252.7" x2="298.7" y2="252.7" stroke="#111" stroke-width="1.1"/>
<rect x="307.3" y="246.0" width="6.6" height="28.8" fill="#555555" stroke="#111" stroke-width="1.1"/>
<line x1="310.6" y1="243.0" x2="310.6" y2="249.0" stroke="#3a3a3a" stroke-width="1"/>
<line x1="307.0" y1="243.0" x2="314.5" y2="243.0" stroke="#111" stroke-width="1.3"/>
<line x1="307.5" y1="249.0" x2="313.7" y2="249.0" stroke="#111" stroke-width="1.1"/>
<rect x="322.3" y="270.2" width="6.6" height="4.6" fill="#555555" stroke="#111" stroke-width="1.1"/>
<line x1="325.6" y1="267.5" x2="325.6" y2="272.8" stroke="#3a3a3a" stroke-width="1"/>
<line x1="322.0" y1="267.5" x2="329.5" y2="267.5" stroke="#111" stroke-width="1.3"/>
<line x1="322.5" y1="272.8" x2="328.7" y2="272.8" stroke="#111" stroke-width="1.1"/>
<rect x="337.3" y="270.0" width="6.6" height="4.8" fill="#555555" stroke="#111" stroke-width="1.1"/>
<rect x="352.3" y="261.2" width="6.6" height="13.6" fill="#555555" stroke="#111" stroke-width="1.1"/>
<rect x="367.3" y="259.3" width="6.6" height="15.5" fill="#555555" stroke="#111" stroke-width="1.1"/>
<line x1="370.6" y1="247.6" x2="370.6" y2="271.0" stroke="#3a3a3a" stroke-width="1"/>
<line x1="367.0" y1="247.6" x2="374.5" y2="247.6" stroke="#111" stroke-width="1.3"/>
<line x1="367.5" y1="271.0" x2="373.7" y2="271.0" stroke="#111" stroke-width="1.1"/>
<rect x="382.3" y="223.3" width="6.6" height="51.5" fill="#555555" stroke="#111" stroke-width="1.1"/>
<line x1="385.6" y1="203.0" x2="385.6" y2="243.6" stroke="#3a3a3a" stroke-width="1"/>
<line x1="382.0" y1="203.0" x2="389.5" y2="203.0" stroke="#111" stroke-width="1.3"/>
<line x1="382.5" y1="243.6" x2="388.7" y2="243.6" stroke="#111" stroke-width="1.1"/>
<rect x="397.3" y="217.1" width="6.6" height="57.7" fill="#555555" stroke="#111" stroke-width="1.1"/>
<line x1="400.6" y1="196.1" x2="400.6" y2="238.1" stroke="#3a3a3a" stroke-width="1"/>
<line x1="397.0" y1="196.1" x2="404.5" y2="196.1" stroke="#111" stroke-width="1.3"/>
<line x1="397.5" y1="238.1" x2="403.7" y2="238.1" stroke="#111" stroke-width="1.1"/>
<rect x="412.3" y="240.6" width="6.6" height="34.2" fill="#555555" stroke="#111" stroke-width="1.1"/>
<rect x="427.3" y="257.3" width="6.6" height="17.5" fill="#555555" stroke="#111" stroke-width="1.1"/>
<line x1="430.6" y1="241.3" x2="430.6" y2="273.3" stroke="#3a3a3a" stroke-width="1"/>
<line x1="427.0" y1="241.3" x2="434.5" y2="241.3" stroke="#111" stroke-width="1.3"/>
<line x1="427.5" y1="273.3" x2="433.8" y2="273.3" stroke="#111" stroke-width="1.1"/>
<rect x="442.4" y="272.3" width="6.6" height="2.5" fill="#555555" stroke="#111" stroke-width="1.1"/>
<rect x="457.4" y="270.7" width="6.6" height="4.1" fill="#555555" stroke="#111" stroke-width="1.1"/>
<line x1="460.7" y1="269.6" x2="460.7" y2="271.7" stroke="#3a3a3a" stroke-width="1"/>
<line x1="457.1" y1="269.6" x2="464.6" y2="269.6" stroke="#111" stroke-width="1.3"/>
<line x1="457.6" y1="271.7" x2="463.8" y2="271.7" stroke="#111" stroke-width="1.1"/>
<rect x="472.4" y="261.2" width="6.6" height="13.6" fill="#555555" stroke="#111" stroke-width="1.1"/>
<rect x="487.4" y="251.4" width="6.6" height="23.4" fill="#555555" stroke="#111" stroke-width="1.1"/>
<line x1="490.7" y1="241.8" x2="490.7" y2="261.1" stroke="#3a3a3a" stroke-width="1"/>
<line x1="487.1" y1="241.8" x2="494.6" y2="241.8" stroke="#111" stroke-width="1.3"/>
<line x1="487.6" y1="261.1" x2="493.8" y2="261.1" stroke="#111" stroke-width="1.1"/>
<rect x="502.4" y="231.5" width="6.6" height="43.3" fill="#555555" stroke="#111" stroke-width="1.1"/>
<line x1="505.7" y1="216.3" x2="505.7" y2="246.7" stroke="#3a3a3a" stroke-width="1"/>
<line x1="502.1" y1="216.3" x2="509.6" y2="216.3" stroke="#111" stroke-width="1.3"/>
<line x1="502.6" y1="246.7" x2="508.8" y2="246.7" stroke="#111" stroke-width="1.1"/>
<rect x="517.4" y="209.2" width="6.6" height="65.6" fill="#555555" stroke="#111" stroke-width="1.1"/>
<line x1="520.7" y1="205.4" x2="520.7" y2="212.9" stroke="#3a3a3a" stroke-width="1"/>
<line x1="517.1" y1="205.4" x2="524.6" y2="205.4" stroke="#111" stroke-width="1.3"/>
<line x1="517.6" y1="212.9" x2="523.8" y2="212.9" stroke="#111" stroke-width="1.1"/>
<rect x="532.4" y="270.7" width="6.6" height="4.1" fill="#555555" stroke="#111" stroke-width="1.1"/>
<line x1="535.7" y1="267.5" x2="535.7" y2="273.8" stroke="#3a3a3a" stroke-width="1"/>
<line x1="532.1" y1="267.5" x2="539.6" y2="267.5" stroke="#111" stroke-width="1.3"/>
<line x1="532.6" y1="273.8" x2="538.8" y2="273.8" stroke="#111" stroke-width="1.1"/>
<rect x="547.4" y="259.3" width="6.6" height="15.5" fill="#555555" stroke="#111" stroke-width="1.1"/>
<line x1="550.7" y1="255.5" x2="550.7" y2="263.2" stroke="#3a3a3a" stroke-width="1"/>
<line x1="547.1" y1="255.5" x2="554.6" y2="255.5" stroke="#111" stroke-width="1.3"/>
<line x1="547.6" y1="263.2" x2="553.8" y2="263.2" stroke="#111" stroke-width="1.1"/>
<rect x="562.4" y="266.7" width="6.6" height="8.1" fill="#555555" stroke="#111" stroke-width="1.1"/>
<line x1="565.7" y1="258.3" x2="565.7" y2="274.8" stroke="#3a3a3a" stroke-width="1"/>
<line x1="562.1" y1="258.3" x2="569.6" y2="258.3" stroke="#111" stroke-width="1.3"/>
<rect x="577.5" y="269.0" width="6.6" height="5.8" fill="#555555" stroke="#111" stroke-width="1.1"/>
<rect x="592.5" y="269.0" width="6.6" height="5.8" fill="#555555" stroke="#111" stroke-width="1.1"/>
<rect x="607.5" y="255.5" width="6.6" height="19.3" fill="#555555" stroke="#111" stroke-width="1.1"/>
<line x1="610.8" y1="247.6" x2="610.8" y2="263.3" stroke="#3a3a3a" stroke-width="1"/>
<line x1="607.2" y1="247.6" x2="614.7" y2="247.6" stroke="#111" stroke-width="1.3"/>
<line x1="607.7" y1="263.3" x2="613.9" y2="263.3" stroke="#111" stroke-width="1.1"/>
<rect x="622.5" y="227.3" width="6.6" height="47.5" fill="#555555" stroke="#111" stroke-width="1.1"/>
<line x1="625.8" y1="205.4" x2="625.8" y2="249.2" stroke="#3a3a3a" stroke-width="1"/>
<line x1="622.2" y1="205.4" x2="629.7" y2="205.4" stroke="#111" stroke-width="1.3"/>
<line x1="622.7" y1="249.2" x2="628.9" y2="249.2" stroke="#111" stroke-width="1.1"/>
<rect x="637.5" y="187.7" width="6.6" height="87.1" fill="#555555" stroke="#111" stroke-width="1.1"/>
<line x1="640.8" y1="176.7" x2="640.8" y2="198.8" stroke="#3a3a3a" stroke-width="1"/>
<line x1="637.2" y1="176.7" x2="644.7" y2="176.7" stroke="#111" stroke-width="1.3"/>
<line x1="637.7" y1="198.8" x2="643.9" y2="198.8" stroke="#111" stroke-width="1.1"/>
<rect x="652.5" y="228.0" width="6.6" height="46.8" fill="#555555" stroke="#111" stroke-width="1.1"/>
<line x1="655.8" y1="220.6" x2="655.8" y2="235.3" stroke="#3a3a3a" stroke-width="1"/>
<line x1="652.2" y1="220.6" x2="659.7" y2="220.6" stroke="#111" stroke-width="1.3"/>
<line x1="652.7" y1="235.3" x2="658.9" y2="235.3" stroke="#111" stroke-width="1.1"/>
<rect x="667.5" y="243.7" width="6.6" height="31.1" fill="#555555" stroke="#111" stroke-width="1.1"/>
<line x1="670.8" y1="242.7" x2="670.8" y2="244.8" stroke="#3a3a3a" stroke-width="1"/>
<line x1="667.2" y1="242.7" x2="674.7" y2="242.7" stroke="#111" stroke-width="1.3"/>
<line x1="667.7" y1="244.8" x2="673.9" y2="244.8" stroke="#111" stroke-width="1.1"/>
<rect x="682.5" y="266.5" width="6.6" height="8.3" fill="#555555" stroke="#111" stroke-width="1.1"/>
<line x1="685.8" y1="261.8" x2="685.8" y2="271.2" stroke="#3a3a3a" stroke-width="1"/>
<line x1="682.2" y1="261.8" x2="689.7" y2="261.8" stroke="#111" stroke-width="1.3"/>
<line x1="682.7" y1="271.2" x2="688.9" y2="271.2" stroke="#111" stroke-width="1.1"/>
<rect x="697.5" y="272.1" width="6.6" height="2.7" fill="#555555" stroke="#111" stroke-width="1.1"/>
<rect x="712.5" y="264.7" width="6.6" height="10.1" fill="#555555" stroke="#111" stroke-width="1.1"/>
<line x1="715.8" y1="257.3" x2="715.8" y2="272.2" stroke="#3a3a3a" stroke-width="1"/>
<line x1="712.2" y1="257.3" x2="719.7" y2="257.3" stroke="#111" stroke-width="1.3"/>
<line x1="712.7" y1="272.2" x2="718.9" y2="272.2" stroke="#111" stroke-width="1.1"/>
<rect x="727.6" y="269.0" width="6.6" height="5.8" fill="#555555" stroke="#111" stroke-width="1.1"/>
<line x1="730.9" y1="266.0" x2="730.9" y2="272.1" stroke="#3a3a3a" stroke-width="1"/>
<line x1="727.2" y1="266.0" x2="734.8" y2="266.0" stroke="#111" stroke-width="1.3"/>
<line x1="727.8" y1="272.1" x2="734.0" y2="272.1" stroke="#111" stroke-width="1.1"/>
<rect x="742.6" y="258.3" width="6.6" height="16.5" fill="#555555" stroke="#111" stroke-width="1.1"/>
<line x1="745.9" y1="247.6" x2="745.9" y2="268.9" stroke="#3a3a3a" stroke-width="1"/>
<line x1="742.3" y1="247.6" x2="749.8" y2="247.6" stroke="#111" stroke-width="1.3"/>
<line x1="742.8" y1="268.9" x2="749.0" y2="268.9" stroke="#111" stroke-width="1.1"/>
<rect x="757.6" y="228.0" width="6.6" height="46.8" fill="#555555" stroke="#111" stroke-width="1.1"/>
<line x1="760.9" y1="195.4" x2="760.9" y2="260.5" stroke="#3a3a3a" stroke-width="1"/>
<line x1="757.3" y1="195.4" x2="764.8" y2="195.4" stroke="#111" stroke-width="1.3"/>
<line x1="757.8" y1="260.5" x2="764.0" y2="260.5" stroke="#111" stroke-width="1.1"/>
<rect x="772.6" y="240.8" width="6.6" height="34.0" fill="#555555" stroke="#111" stroke-width="1.1"/>
<line x1="775.9" y1="222.6" x2="775.9" y2="259.0" stroke="#3a3a3a" stroke-width="1"/>
<line x1="772.3" y1="222.6" x2="779.8" y2="222.6" stroke="#111" stroke-width="1.3"/>
<line x1="772.8" y1="259.0" x2="779.0" y2="259.0" stroke="#111" stroke-width="1.1"/>
<path d="M49.7,245.8 C50.9,246.0 54.4,246.0 56.7,247.0 C59.0,248.0 61.4,249.6 63.7,251.7 C66.0,253.8 68.5,257.9 70.8,259.8 C73.1,261.8 75.1,262.4 77.8,263.4 C80.5,264.4 83.7,265.8 87.2,265.7 C90.7,265.6 95.0,264.3 98.9,262.9 C102.8,261.5 106.7,259.6 110.6,257.5 C114.5,255.4 118.4,253.0 122.3,250.5 C126.2,248.0 130.1,245.4 134.0,242.3 C137.9,239.2 142.2,234.9 145.7,231.7 C149.2,228.5 152.8,224.9 155.1,223.1 C157.4,221.3 158.2,220.8 159.8,220.7 C161.4,220.6 162.4,220.4 164.4,222.4 C166.4,224.4 169.6,228.8 172.0,232.9 C174.4,237.0 176.7,242.9 179.0,247.0 C181.3,251.1 183.4,254.7 186.1,257.5 C188.8,260.3 191.9,262.2 195.4,263.8 C198.9,265.4 203.3,266.0 207.2,266.9 C211.1,267.8 215.8,269.1 218.9,269.2 C222.0,269.3 223.2,269.3 225.9,267.6 C228.6,265.9 232.2,261.6 235.3,259.0 C238.4,256.4 240.7,256.4 244.6,252.0 C248.5,247.7 254.4,240.0 258.7,232.9 C263.0,225.8 267.1,215.3 270.4,209.5 C273.7,203.7 276.2,198.6 278.6,197.8 C281.0,197.0 282.4,201.5 285.0,204.8 C287.6,208.1 291.3,213.2 294.4,217.7 C297.5,222.2 300.6,227.0 303.7,231.7 C306.8,236.4 310.0,240.9 313.1,245.8 C316.2,250.7 319.6,256.8 322.5,261.0 C325.4,265.2 328.0,269.4 330.7,270.9 C333.4,272.4 336.0,270.8 338.9,269.9 C341.8,269.0 345.1,267.8 348.2,265.7 C351.3,263.6 354.5,261.0 357.6,257.5 C360.7,254.0 363.9,248.9 367.0,244.6 C370.1,240.3 373.2,235.8 376.3,231.7 C379.4,227.6 382.6,222.9 385.7,220.0 C388.8,217.1 392.3,215.0 395.0,214.2 C397.7,213.3 399.3,212.6 402.1,214.9 C404.9,217.2 409.2,224.0 412.0,228.2 C414.8,232.4 416.3,236.0 419.0,239.9 C421.7,243.8 425.3,248.2 428.4,251.7 C431.5,255.2 434.7,258.3 437.8,261.0 C440.9,263.7 444.5,266.2 447.2,268.0 C449.9,269.8 451.9,271.4 454.2,271.6 C456.5,271.8 458.1,270.8 461.2,269.2 C464.3,267.6 469.0,265.1 472.9,262.2 C476.8,259.3 480.7,255.8 484.6,251.7 C488.5,247.6 492.8,242.7 496.3,237.6 C499.8,232.5 503.0,226.5 505.7,221.2 C508.4,215.9 510.6,209.1 512.7,206.0 C514.9,202.9 516.7,202.1 518.6,202.5 C520.5,202.9 522.2,205.6 524.4,208.3 C526.6,211.0 529.6,214.8 532.0,218.9 C534.4,223.0 536.3,228.2 539.0,232.9 C541.7,237.6 545.3,242.7 548.4,247.0 C551.5,251.3 554.7,255.7 557.8,258.7 C560.9,261.7 563.7,263.6 567.2,265.2 C570.7,266.8 575.4,267.4 578.9,268.0 C582.4,268.6 585.1,268.5 588.2,268.5 C591.3,268.5 595.2,268.9 597.6,268.0 C600.0,267.1 600.7,265.9 602.3,263.4 C603.9,260.9 605.0,255.7 607.0,252.8 C609.0,249.9 611.7,249.3 614.0,245.8 C616.3,242.3 618.7,237.4 621.0,231.7 C623.3,226.0 625.9,218.2 628.0,211.8 C630.1,205.4 631.9,198.0 633.9,193.1 C635.9,188.2 637.8,183.0 639.8,182.6 C641.8,182.2 643.6,185.7 645.6,190.8 C647.6,195.9 649.8,206.9 652.0,213.0 C654.2,219.1 656.3,222.6 659.0,227.1 C661.7,231.6 665.3,235.8 668.4,239.9 C671.5,244.0 674.7,247.8 677.8,251.7 C680.9,255.6 684.1,260.7 687.2,263.4 C690.3,266.1 693.8,267.4 696.5,268.0 C699.2,268.6 700.4,268.1 703.5,266.9 C706.6,265.7 711.8,261.6 715.3,261.0 C718.8,260.4 721.7,262.8 724.6,263.4 C727.5,264.0 730.4,265.9 732.8,264.5 C735.1,263.1 736.6,259.7 738.7,255.2 C740.9,250.7 743.4,242.4 745.7,237.6 C748.0,232.8 750.2,228.8 752.7,226.4 C755.2,224.0 758.2,223.0 760.9,223.1 C763.6,223.2 766.6,225.1 769.1,227.1 C771.6,229.1 773.8,232.7 776.1,235.3 C778.4,238.0 781.9,241.7 783.0,243.0" fill="none" stroke="#0d0d0d" stroke-width="1.60" stroke-linejoin="round"/>
<line x1="44.2" y1="169.8" x2="783.0" y2="169.8" stroke="#2a2a2a" stroke-width="1.6"/>
<line x1="783.0" y1="169.8" x2="783.0" y2="274.8" stroke="#2a2a2a" stroke-width="1.4"/>
<line x1="47.8" y1="169.8" x2="47.8" y2="274.8" stroke="#5a5a5a" stroke-width="1.4"/>
<line x1="44.2" y1="274.8" x2="783.0" y2="274.8" stroke="#959595" stroke-width="1.3"/>
<text class="s" transform="translate(49.3,164.6) scale(1.1,1)" font-size="16.2">(B)</text>
</g>
<g>
<rect x="47.7" y="312.2" width="42.8" height="113.9" fill="#cacaca"/>
<rect x="168.0" y="312.2" width="41.5" height="113.9" fill="#cacaca"/>
<rect x="289.0" y="312.2" width="41.0" height="113.9" fill="#cacaca"/>
<rect x="407.0" y="312.2" width="40.2" height="113.9" fill="#cacaca"/>
<rect x="529.5" y="312.2" width="40.0" height="113.9" fill="#cacaca"/>
<rect x="649.7" y="312.2" width="39.8" height="113.9" fill="#cacaca"/>
<rect x="768.4" y="312.2" width="11.9" height="113.9" fill="#cacaca"/>
<path d="M48.5,415.7 L50.0,415.7 C55.0,415.7 70.0,415.7 80.0,415.7 C90.0,415.7 104.0,415.8 110.0,415.7 C116.0,415.6 112.7,415.4 116.0,415.2 C119.3,415.0 125.0,415.4 130.0,414.5 C135.0,413.6 141.7,411.4 146.0,409.8 C150.3,408.2 153.5,406.2 156.0,405.2 C158.5,404.1 159.5,403.3 161.0,403.5 C162.5,403.7 163.2,404.7 165.0,406.3 C166.8,407.9 169.7,410.9 172.0,412.9 C174.3,414.8 175.5,417.0 179.0,418.0 C182.5,419.0 187.6,418.7 193.1,418.7 C198.6,418.7 206.3,418.4 211.8,418.0 C217.3,417.6 222.0,417.0 225.9,416.2 C229.8,415.4 231.8,414.7 235.3,413.4 C238.8,412.1 243.1,409.6 247.0,408.2 C250.9,406.8 254.8,405.5 258.7,404.7 C262.6,403.9 266.5,403.6 270.4,403.3 C274.3,403.0 278.8,403.0 282.1,403.1 C285.4,403.2 287.9,403.9 290.0,404.2 C292.1,404.5 292.5,403.3 294.4,405.2 C296.3,407.1 298.7,413.2 301.4,415.7 C304.1,418.1 307.3,418.8 310.8,419.9 C314.3,420.9 318.2,421.4 322.5,422.0 C326.8,422.6 331.4,423.0 336.5,423.2 C341.6,423.4 348.2,423.7 352.9,423.2 C357.6,422.7 361.1,421.8 364.6,420.4 C368.1,418.9 371.3,416.3 374.0,414.5 C376.7,412.7 378.3,410.8 381.0,409.8 C383.7,408.8 387.3,408.8 390.4,408.7 C393.5,408.6 397.3,408.8 399.8,409.4 C402.3,410.0 404.0,410.8 405.6,412.2 C407.2,413.6 407.5,416.4 409.7,418.0 C411.9,419.6 415.1,420.8 419.0,421.6 C422.9,422.4 427.6,422.5 433.1,422.7 C438.6,422.9 445.6,423.0 451.8,422.7 C458.1,422.4 464.7,421.6 470.6,420.9 C476.5,420.2 482.3,419.4 487.0,418.5 C491.7,417.6 494.8,416.8 498.7,415.7 C502.6,414.6 506.5,413.4 510.4,412.2 C514.3,411.0 517.7,409.7 522.1,408.7 C526.5,407.7 532.3,407.2 536.7,406.3 C541.1,405.4 545.3,403.3 548.4,403.5 C551.5,403.7 552.7,405.5 555.4,407.5 C558.1,409.5 561.7,413.6 564.8,415.7 C567.9,417.8 570.3,419.2 574.2,419.9 C578.1,420.6 583.1,420.5 588.2,419.9 C593.3,419.3 600.7,419.8 604.6,416.4 C608.5,413.0 609.4,404.5 611.7,399.3 C614.1,394.1 616.0,389.4 618.7,385.3 C621.4,381.2 625.3,377.1 628.0,374.7 C630.7,372.3 632.8,370.1 635.1,370.7 C637.5,371.3 639.3,374.4 642.1,378.2 C644.9,382.0 649.2,389.8 652.0,393.5 C654.8,397.2 656.3,398.3 659.0,400.5 C661.7,402.7 665.3,404.9 668.4,406.8 C671.5,408.8 674.7,410.5 677.8,412.2 C680.9,413.9 683.7,415.8 687.2,416.9 C690.7,418.0 694.2,418.3 698.9,418.7 C703.6,419.1 709.4,419.1 715.3,419.2 C721.1,419.3 729.5,419.4 734.0,419.2 C738.5,419.0 740.6,423.1 742.5,418.2 C744.4,413.3 744.7,399.7 745.5,390.0 C746.3,380.3 746.8,368.0 747.5,360.0 C748.2,352.0 748.7,346.4 749.5,342.0 C750.3,337.6 751.2,335.3 752.4,333.4 C753.6,331.5 755.4,331.1 756.8,330.7 C758.1,330.3 759.5,330.3 760.5,331.2 C761.5,332.1 762.1,331.2 762.6,336.0 C763.1,340.8 763.0,353.0 763.2,360.0 C763.4,367.0 763.5,373.1 764.0,378.0 C764.5,382.9 764.9,386.6 766.2,389.4 C767.5,392.2 770.0,393.7 772.0,395.0 C774.0,396.3 777.0,396.8 778.0,397.2 L778.0,426.1 L47.0,426.1 Z" fill="#fff" stroke="none"/>
<line x1="49.7" y1="407.1" x2="779.3" y2="407.1" stroke="#8a8a8a" stroke-width="1.3" stroke-dasharray="1.5 1.7"/>
<line x1="49.7" y1="388.1" x2="779.3" y2="388.1" stroke="#8a8a8a" stroke-width="1.3" stroke-dasharray="1.5 1.7"/>
<line x1="49.7" y1="369.1" x2="779.3" y2="369.1" stroke="#8a8a8a" stroke-width="1.3" stroke-dasharray="1.5 1.7"/>
<line x1="49.7" y1="350.2" x2="779.3" y2="350.2" stroke="#8a8a8a" stroke-width="1.3" stroke-dasharray="1.5 1.7"/>
<line x1="49.7" y1="331.2" x2="779.3" y2="331.2" stroke="#8a8a8a" stroke-width="1.3" stroke-dasharray="1.5 1.7"/>
<line x1="44.1" y1="426.1" x2="47.7" y2="426.1" stroke="#222" stroke-width="1.2"/>
<text class="t" transform="translate(37.3,429.9) scale(1.08,1)" font-size="10.2" text-anchor="end" fill="#000">0</text>
<line x1="44.1" y1="407.1" x2="47.7" y2="407.1" stroke="#222" stroke-width="1.2"/>
<text class="t" transform="translate(37.3,410.9) scale(1.08,1)" font-size="10.2" text-anchor="end" fill="#000">20</text>
<line x1="44.1" y1="388.1" x2="47.7" y2="388.1" stroke="#222" stroke-width="1.2"/>
<text class="t" transform="translate(37.3,391.9) scale(1.08,1)" font-size="10.2" text-anchor="end" fill="#000">40</text>
<line x1="44.1" y1="369.1" x2="47.7" y2="369.1" stroke="#222" stroke-width="1.2"/>
<text class="t" transform="translate(37.3,372.9) scale(1.08,1)" font-size="10.2" text-anchor="end" fill="#000">60</text>
<line x1="44.1" y1="350.2" x2="47.7" y2="350.2" stroke="#222" stroke-width="1.2"/>
<text class="t" transform="translate(37.3,353.9) scale(1.08,1)" font-size="10.2" text-anchor="end" fill="#000">80</text>
<line x1="44.1" y1="331.2" x2="47.7" y2="331.2" stroke="#222" stroke-width="1.2"/>
<text class="t" transform="translate(37.3,334.9) scale(1.08,1)" font-size="10.2" text-anchor="end" fill="#000">100</text>
<line x1="44.1" y1="312.2" x2="47.7" y2="312.2" stroke="#222" stroke-width="1.2"/>
<text class="t" transform="translate(37.3,314.9) scale(1.08,1)" font-size="10.2" text-anchor="end" fill="#000">120</text>
<text class="t" x="66.3" y="327.0" font-size="13" text-anchor="middle">D</text>
<text class="t" x="190.0" y="327.0" font-size="13" text-anchor="middle">D</text>
<text class="t" x="308.5" y="327.0" font-size="13" text-anchor="middle">D</text>
<text class="t" x="427.8" y="327.0" font-size="13" text-anchor="middle">D</text>
<text class="t" x="547.3" y="327.0" font-size="13" text-anchor="middle">D</text>
<text class="t" x="666.8" y="327.0" font-size="13" text-anchor="middle">D</text>
<text class="t" x="771.6" y="327.0" font-size="13" text-anchor="middle">D</text>
<text class="t" x="127.6" y="327.0" font-size="13" text-anchor="middle">L</text>
<text class="t" x="251.0" y="327.0" font-size="13" text-anchor="middle">L</text>
<text class="t" x="371.7" y="327.0" font-size="13" text-anchor="middle">L</text>
<text class="t" x="490.5" y="327.0" font-size="13" text-anchor="middle">L</text>
<text class="t" x="610.5" y="327.0" font-size="13" text-anchor="middle">L</text>
<text class="t" x="733.0" y="327.0" font-size="13" text-anchor="middle">L</text>
<rect x="52.2" y="417.1" width="6.6" height="9.0" fill="#555555" stroke="#111" stroke-width="1.1"/>
<line x1="55.5" y1="410.6" x2="55.5" y2="423.5" stroke="#3a3a3a" stroke-width="1"/>
<line x1="51.9" y1="410.6" x2="59.4" y2="410.6" stroke="#111" stroke-width="1.3"/>
<line x1="52.4" y1="423.5" x2="58.6" y2="423.5" stroke="#111" stroke-width="1.1"/>
<rect x="67.2" y="416.6" width="6.6" height="9.5" fill="#555555" stroke="#111" stroke-width="1.1"/>
<line x1="70.5" y1="406.0" x2="70.5" y2="426.1" stroke="#3a3a3a" stroke-width="1"/>
<line x1="66.9" y1="406.0" x2="74.4" y2="406.0" stroke="#111" stroke-width="1.3"/>
<rect x="82.1" y="417.1" width="6.6" height="9.0" fill="#555555" stroke="#111" stroke-width="1.1"/>
<line x1="85.4" y1="406.0" x2="85.4" y2="426.1" stroke="#3a3a3a" stroke-width="1"/>
<line x1="81.8" y1="406.0" x2="89.3" y2="406.0" stroke="#111" stroke-width="1.3"/>
<rect x="97.1" y="416.0" width="6.6" height="10.1" fill="#555555" stroke="#111" stroke-width="1.1"/>
<line x1="100.4" y1="401.7" x2="100.4" y2="426.1" stroke="#3a3a3a" stroke-width="1"/>
<line x1="96.8" y1="401.7" x2="104.3" y2="401.7" stroke="#111" stroke-width="1.3"/>
<rect x="112.1" y="417.1" width="6.6" height="9.0" fill="#555555" stroke="#111" stroke-width="1.1"/>
<line x1="115.4" y1="408.3" x2="115.4" y2="425.9" stroke="#3a3a3a" stroke-width="1"/>
<line x1="111.8" y1="408.3" x2="119.3" y2="408.3" stroke="#111" stroke-width="1.3"/>
<line x1="112.3" y1="425.9" x2="118.5" y2="425.9" stroke="#111" stroke-width="1.1"/>
<rect x="127.0" y="415.4" width="6.6" height="10.7" fill="#555555" stroke="#111" stroke-width="1.1"/>
<line x1="130.3" y1="403.6" x2="130.3" y2="426.1" stroke="#3a3a3a" stroke-width="1"/>
<line x1="126.7" y1="403.6" x2="134.2" y2="403.6" stroke="#111" stroke-width="1.3"/>
<rect x="142.0" y="414.9" width="6.6" height="11.2" fill="#555555" stroke="#111" stroke-width="1.1"/>
<line x1="145.3" y1="409.0" x2="145.3" y2="420.8" stroke="#3a3a3a" stroke-width="1"/>
<line x1="141.7" y1="409.0" x2="149.2" y2="409.0" stroke="#111" stroke-width="1.3"/>
<line x1="142.2" y1="420.8" x2="148.4" y2="420.8" stroke="#111" stroke-width="1.1"/>
<rect x="157.0" y="406.6" width="6.6" height="19.5" fill="#555555" stroke="#111" stroke-width="1.1"/>
<line x1="160.3" y1="401.2" x2="160.3" y2="412.1" stroke="#3a3a3a" stroke-width="1"/>
<line x1="156.7" y1="401.2" x2="164.2" y2="401.2" stroke="#111" stroke-width="1.3"/>
<line x1="157.2" y1="412.1" x2="163.4" y2="412.1" stroke="#111" stroke-width="1.1"/>
<rect x="171.9" y="416.0" width="6.6" height="10.1" fill="#555555" stroke="#111" stroke-width="1.1"/>
<line x1="175.2" y1="407.1" x2="175.2" y2="425.0" stroke="#3a3a3a" stroke-width="1"/>
<line x1="171.6" y1="407.1" x2="179.1" y2="407.1" stroke="#111" stroke-width="1.3"/>
<line x1="172.1" y1="425.0" x2="178.3" y2="425.0" stroke="#111" stroke-width="1.1"/>
<rect x="186.9" y="420.0" width="6.6" height="6.1" fill="#555555" stroke="#111" stroke-width="1.1"/>
<line x1="190.2" y1="414.2" x2="190.2" y2="425.8" stroke="#3a3a3a" stroke-width="1"/>
<line x1="186.6" y1="414.2" x2="194.1" y2="414.2" stroke="#111" stroke-width="1.3"/>
<line x1="187.1" y1="425.8" x2="193.3" y2="425.8" stroke="#111" stroke-width="1.1"/>
<rect x="201.8" y="419.6" width="6.6" height="6.5" fill="#555555" stroke="#111" stroke-width="1.1"/>
<line x1="205.2" y1="413.8" x2="205.2" y2="425.3" stroke="#3a3a3a" stroke-width="1"/>
<line x1="201.6" y1="413.8" x2="209.1" y2="413.8" stroke="#111" stroke-width="1.3"/>
<line x1="202.1" y1="425.3" x2="208.2" y2="425.3" stroke="#111" stroke-width="1.1"/>
<rect x="216.8" y="420.0" width="6.6" height="6.1" fill="#555555" stroke="#111" stroke-width="1.1"/>
<line x1="220.1" y1="413.8" x2="220.1" y2="426.1" stroke="#3a3a3a" stroke-width="1"/>
<line x1="216.5" y1="413.8" x2="224.0" y2="413.8" stroke="#111" stroke-width="1.3"/>
<rect x="231.8" y="416.0" width="6.6" height="10.1" fill="#555555" stroke="#111" stroke-width="1.1"/>
<line x1="235.1" y1="408.3" x2="235.1" y2="423.8" stroke="#3a3a3a" stroke-width="1"/>
<line x1="231.5" y1="408.3" x2="239.0" y2="408.3" stroke="#111" stroke-width="1.3"/>
<line x1="232.0" y1="423.8" x2="238.2" y2="423.8" stroke="#111" stroke-width="1.1"/>
<rect x="246.7" y="412.5" width="6.6" height="13.6" fill="#555555" stroke="#111" stroke-width="1.1"/>
<line x1="250.0" y1="411.3" x2="250.0" y2="413.8" stroke="#3a3a3a" stroke-width="1"/>
<line x1="246.4" y1="411.3" x2="253.9" y2="411.3" stroke="#111" stroke-width="1.3"/>
<line x1="246.9" y1="413.8" x2="253.1" y2="413.8" stroke="#111" stroke-width="1.1"/>
<rect x="261.7" y="408.3" width="6.6" height="17.8" fill="#555555" stroke="#111" stroke-width="1.1"/>
<line x1="265.0" y1="403.6" x2="265.0" y2="412.9" stroke="#3a3a3a" stroke-width="1"/>
<line x1="261.4" y1="403.6" x2="268.9" y2="403.6" stroke="#111" stroke-width="1.3"/>
<line x1="261.9" y1="412.9" x2="268.1" y2="412.9" stroke="#111" stroke-width="1.1"/>
<rect x="276.7" y="409.9" width="6.6" height="16.2" fill="#555555" stroke="#111" stroke-width="1.1"/>
<line x1="280.0" y1="404.1" x2="280.0" y2="415.7" stroke="#3a3a3a" stroke-width="1"/>
<line x1="276.4" y1="404.1" x2="283.9" y2="404.1" stroke="#111" stroke-width="1.3"/>
<line x1="276.9" y1="415.7" x2="283.1" y2="415.7" stroke="#111" stroke-width="1.1"/>
<rect x="291.6" y="404.7" width="6.6" height="21.4" fill="#555555" stroke="#111" stroke-width="1.1"/>
<line x1="294.9" y1="391.1" x2="294.9" y2="418.4" stroke="#3a3a3a" stroke-width="1"/>
<line x1="291.3" y1="391.1" x2="298.8" y2="391.1" stroke="#111" stroke-width="1.3"/>
<line x1="291.8" y1="418.4" x2="298.0" y2="418.4" stroke="#111" stroke-width="1.1"/>
<rect x="306.6" y="421.3" width="6.6" height="4.8" fill="#555555" stroke="#111" stroke-width="1.1"/>
<rect x="321.6" y="424.1" width="6.6" height="2.0" fill="#555555" stroke="#111" stroke-width="1.1"/>
<rect x="336.5" y="424.8" width="6.6" height="1.3" fill="#555555" stroke="#111" stroke-width="1.1"/>
<rect x="351.5" y="424.1" width="6.6" height="2.0" fill="#555555" stroke="#111" stroke-width="1.1"/>
<rect x="366.5" y="420.8" width="6.6" height="5.3" fill="#555555" stroke="#111" stroke-width="1.1"/>
<line x1="369.8" y1="419.6" x2="369.8" y2="421.9" stroke="#3a3a3a" stroke-width="1"/>
<line x1="366.2" y1="419.6" x2="373.7" y2="419.6" stroke="#111" stroke-width="1.3"/>
<line x1="366.7" y1="421.9" x2="372.9" y2="421.9" stroke="#111" stroke-width="1.1"/>
<rect x="381.4" y="409.9" width="6.6" height="16.2" fill="#555555" stroke="#111" stroke-width="1.1"/>
<rect x="396.4" y="410.6" width="6.6" height="15.5" fill="#555555" stroke="#111" stroke-width="1.1"/>
<line x1="399.7" y1="388.8" x2="399.7" y2="426.1" stroke="#3a3a3a" stroke-width="1"/>
<line x1="396.1" y1="388.8" x2="403.6" y2="388.8" stroke="#111" stroke-width="1.3"/>
<rect x="411.4" y="421.7" width="6.6" height="4.4" fill="#555555" stroke="#111" stroke-width="1.1"/>
<line x1="414.7" y1="420.1" x2="414.7" y2="423.3" stroke="#3a3a3a" stroke-width="1"/>
<line x1="411.1" y1="420.1" x2="418.6" y2="420.1" stroke="#111" stroke-width="1.3"/>
<line x1="411.6" y1="423.3" x2="417.8" y2="423.3" stroke="#111" stroke-width="1.1"/>
<rect x="426.3" y="422.5" width="6.6" height="3.6" fill="#555555" stroke="#111" stroke-width="1.1"/>
<line x1="429.6" y1="418.1" x2="429.6" y2="426.1" stroke="#3a3a3a" stroke-width="1"/>
<line x1="426.0" y1="418.1" x2="433.5" y2="418.1" stroke="#111" stroke-width="1.3"/>
<rect x="441.3" y="424.1" width="6.6" height="2.0" fill="#555555" stroke="#111" stroke-width="1.1"/>
<rect x="456.3" y="424.8" width="6.6" height="1.3" fill="#555555" stroke="#111" stroke-width="1.1"/>
<rect x="471.2" y="423.6" width="6.6" height="2.5" fill="#555555" stroke="#111" stroke-width="1.1"/>
<line x1="474.5" y1="422.5" x2="474.5" y2="424.8" stroke="#3a3a3a" stroke-width="1"/>
<line x1="470.9" y1="422.5" x2="478.4" y2="422.5" stroke="#111" stroke-width="1.3"/>
<line x1="471.4" y1="424.8" x2="477.6" y2="424.8" stroke="#111" stroke-width="1.1"/>
<rect x="486.2" y="421.3" width="6.6" height="4.8" fill="#555555" stroke="#111" stroke-width="1.1"/>
<rect x="501.1" y="415.4" width="6.6" height="10.7" fill="#555555" stroke="#111" stroke-width="1.1"/>
<line x1="504.4" y1="414.1" x2="504.4" y2="416.6" stroke="#3a3a3a" stroke-width="1"/>
<line x1="500.8" y1="414.1" x2="508.3" y2="414.1" stroke="#111" stroke-width="1.3"/>
<line x1="501.3" y1="416.6" x2="507.6" y2="416.6" stroke="#111" stroke-width="1.1"/>
<rect x="516.1" y="414.2" width="6.6" height="11.9" fill="#555555" stroke="#111" stroke-width="1.1"/>
<line x1="519.4" y1="408.8" x2="519.4" y2="419.6" stroke="#3a3a3a" stroke-width="1"/>
<line x1="515.8" y1="408.8" x2="523.3" y2="408.8" stroke="#111" stroke-width="1.3"/>
<line x1="516.3" y1="419.6" x2="522.5" y2="419.6" stroke="#111" stroke-width="1.1"/>
<rect x="531.1" y="422.5" width="6.6" height="3.6" fill="#555555" stroke="#111" stroke-width="1.1"/>
<line x1="534.4" y1="420.9" x2="534.4" y2="424.1" stroke="#3a3a3a" stroke-width="1"/>
<line x1="530.8" y1="420.9" x2="538.3" y2="420.9" stroke="#111" stroke-width="1.3"/>
<line x1="531.3" y1="424.1" x2="537.5" y2="424.1" stroke="#111" stroke-width="1.1"/>
<rect x="546.0" y="404.3" width="6.6" height="21.8" fill="#555555" stroke="#111" stroke-width="1.1"/>
<line x1="549.3" y1="398.4" x2="549.3" y2="410.2" stroke="#3a3a3a" stroke-width="1"/>
<line x1="545.7" y1="398.4" x2="553.2" y2="398.4" stroke="#111" stroke-width="1.3"/>
<line x1="546.2" y1="410.2" x2="552.4" y2="410.2" stroke="#111" stroke-width="1.1"/>
<rect x="561.0" y="418.9" width="6.6" height="7.2" fill="#555555" stroke="#111" stroke-width="1.1"/>
<line x1="564.3" y1="415.4" x2="564.3" y2="422.4" stroke="#3a3a3a" stroke-width="1"/>
<line x1="560.7" y1="415.4" x2="568.2" y2="415.4" stroke="#111" stroke-width="1.3"/>
<line x1="561.2" y1="422.4" x2="567.4" y2="422.4" stroke="#111" stroke-width="1.1"/>
<rect x="576.0" y="423.6" width="6.6" height="2.5" fill="#555555" stroke="#111" stroke-width="1.1"/>
<rect x="590.9" y="421.7" width="6.6" height="4.4" fill="#555555" stroke="#111" stroke-width="1.1"/>
<rect x="605.9" y="419.4" width="6.6" height="6.7" fill="#555555" stroke="#111" stroke-width="1.1"/>
<rect x="620.9" y="385.5" width="6.6" height="40.6" fill="#555555" stroke="#111" stroke-width="1.1"/>
<line x1="624.2" y1="373.7" x2="624.2" y2="397.2" stroke="#3a3a3a" stroke-width="1"/>
<line x1="620.6" y1="373.7" x2="628.1" y2="373.7" stroke="#111" stroke-width="1.3"/>
<line x1="621.1" y1="397.2" x2="627.3" y2="397.2" stroke="#111" stroke-width="1.1"/>
<rect x="635.8" y="372.9" width="6.6" height="53.2" fill="#555555" stroke="#111" stroke-width="1.1"/>
<line x1="639.1" y1="351.0" x2="639.1" y2="394.9" stroke="#3a3a3a" stroke-width="1"/>
<line x1="635.5" y1="351.0" x2="643.0" y2="351.0" stroke="#111" stroke-width="1.3"/>
<line x1="636.0" y1="394.9" x2="642.2" y2="394.9" stroke="#111" stroke-width="1.1"/>
<rect x="650.8" y="402.8" width="6.6" height="23.3" fill="#555555" stroke="#111" stroke-width="1.1"/>
<line x1="654.1" y1="388.2" x2="654.1" y2="417.5" stroke="#3a3a3a" stroke-width="1"/>
<line x1="650.5" y1="388.2" x2="658.0" y2="388.2" stroke="#111" stroke-width="1.3"/>
<line x1="651.0" y1="417.5" x2="657.2" y2="417.5" stroke="#111" stroke-width="1.1"/>
<rect x="665.8" y="408.3" width="6.6" height="17.8" fill="#555555" stroke="#111" stroke-width="1.1"/>
<line x1="669.1" y1="399.5" x2="669.1" y2="417.0" stroke="#3a3a3a" stroke-width="1"/>
<line x1="665.5" y1="399.5" x2="673.0" y2="399.5" stroke="#111" stroke-width="1.3"/>
<line x1="666.0" y1="417.0" x2="672.2" y2="417.0" stroke="#111" stroke-width="1.1"/>
<rect x="680.7" y="417.1" width="6.6" height="9.0" fill="#555555" stroke="#111" stroke-width="1.1"/>
<line x1="684.0" y1="415.4" x2="684.0" y2="418.8" stroke="#3a3a3a" stroke-width="1"/>
<line x1="680.4" y1="415.4" x2="687.9" y2="415.4" stroke="#111" stroke-width="1.3"/>
<line x1="680.9" y1="418.8" x2="687.1" y2="418.8" stroke="#111" stroke-width="1.1"/>
<rect x="695.7" y="423.6" width="6.6" height="2.5" fill="#555555" stroke="#111" stroke-width="1.1"/>
<rect x="710.7" y="415.8" width="6.6" height="10.3" fill="#555555" stroke="#111" stroke-width="1.1"/>
<line x1="714.0" y1="414.4" x2="714.0" y2="417.3" stroke="#3a3a3a" stroke-width="1"/>
<line x1="710.4" y1="414.4" x2="717.9" y2="414.4" stroke="#111" stroke-width="1.3"/>
<line x1="710.9" y1="417.3" x2="717.1" y2="417.3" stroke="#111" stroke-width="1.1"/>
<rect x="725.6" y="419.4" width="6.6" height="6.7" fill="#555555" stroke="#111" stroke-width="1.1"/>
<rect x="740.6" y="420.8" width="6.6" height="5.3" fill="#555555" stroke="#111" stroke-width="1.1"/>
<rect x="755.6" y="331.8" width="6.6" height="94.3" fill="#555555" stroke="#111" stroke-width="1.1"/>
<rect x="770.5" y="400.0" width="6.6" height="26.1" fill="#555555" stroke="#111" stroke-width="1.1"/>
<line x1="773.8" y1="394.9" x2="773.8" y2="405.1" stroke="#3a3a3a" stroke-width="1"/>
<line x1="770.2" y1="394.9" x2="777.7" y2="394.9" stroke="#111" stroke-width="1.3"/>
<line x1="770.7" y1="405.1" x2="776.9" y2="405.1" stroke="#111" stroke-width="1.1"/>
<path d="M50.0,415.7 C55.0,415.7 70.0,415.7 80.0,415.7 C90.0,415.7 104.0,415.8 110.0,415.7 C116.0,415.6 112.7,415.4 116.0,415.2 C119.3,415.0 125.0,415.4 130.0,414.5 C135.0,413.6 141.7,411.4 146.0,409.8 C150.3,408.2 153.5,406.2 156.0,405.2 C158.5,404.1 159.5,403.3 161.0,403.5 C162.5,403.7 163.2,404.7 165.0,406.3 C166.8,407.9 169.7,410.9 172.0,412.9 C174.3,414.8 175.5,417.0 179.0,418.0 C182.5,419.0 187.6,418.7 193.1,418.7 C198.6,418.7 206.3,418.4 211.8,418.0 C217.3,417.6 222.0,417.0 225.9,416.2 C229.8,415.4 231.8,414.7 235.3,413.4 C238.8,412.1 243.1,409.6 247.0,408.2 C250.9,406.8 254.8,405.5 258.7,404.7 C262.6,403.9 266.5,403.6 270.4,403.3 C274.3,403.0 278.8,403.0 282.1,403.1 C285.4,403.2 287.9,403.9 290.0,404.2 C292.1,404.5 292.5,403.3 294.4,405.2 C296.3,407.1 298.7,413.2 301.4,415.7 C304.1,418.1 307.3,418.8 310.8,419.9 C314.3,420.9 318.2,421.4 322.5,422.0 C326.8,422.6 331.4,423.0 336.5,423.2 C341.6,423.4 348.2,423.7 352.9,423.2 C357.6,422.7 361.1,421.8 364.6,420.4 C368.1,418.9 371.3,416.3 374.0,414.5 C376.7,412.7 378.3,410.8 381.0,409.8 C383.7,408.8 387.3,408.8 390.4,408.7 C393.5,408.6 397.3,408.8 399.8,409.4 C402.3,410.0 404.0,410.8 405.6,412.2 C407.2,413.6 407.5,416.4 409.7,418.0 C411.9,419.6 415.1,420.8 419.0,421.6 C422.9,422.4 427.6,422.5 433.1,422.7 C438.6,422.9 445.6,423.0 451.8,422.7 C458.1,422.4 464.7,421.6 470.6,420.9 C476.5,420.2 482.3,419.4 487.0,418.5 C491.7,417.6 494.8,416.8 498.7,415.7 C502.6,414.6 506.5,413.4 510.4,412.2 C514.3,411.0 517.7,409.7 522.1,408.7 C526.5,407.7 532.3,407.2 536.7,406.3 C541.1,405.4 545.3,403.3 548.4,403.5 C551.5,403.7 552.7,405.5 555.4,407.5 C558.1,409.5 561.7,413.6 564.8,415.7 C567.9,417.8 570.3,419.2 574.2,419.9 C578.1,420.6 583.1,420.5 588.2,419.9 C593.3,419.3 600.7,419.8 604.6,416.4 C608.5,413.0 609.4,404.5 611.7,399.3 C614.1,394.1 616.0,389.4 618.7,385.3 C621.4,381.2 625.3,377.1 628.0,374.7 C630.7,372.3 632.8,370.1 635.1,370.7 C637.5,371.3 639.3,374.4 642.1,378.2 C644.9,382.0 649.2,389.8 652.0,393.5 C654.8,397.2 656.3,398.3 659.0,400.5 C661.7,402.7 665.3,404.9 668.4,406.8 C671.5,408.8 674.7,410.5 677.8,412.2 C680.9,413.9 683.7,415.8 687.2,416.9 C690.7,418.0 694.2,418.3 698.9,418.7 C703.6,419.1 709.4,419.1 715.3,419.2 C721.1,419.3 729.5,419.4 734.0,419.2 C738.5,419.0 740.6,423.1 742.5,418.2 C744.4,413.3 744.7,399.7 745.5,390.0 C746.3,380.3 746.8,368.0 747.5,360.0 C748.2,352.0 748.7,346.4 749.5,342.0 C750.3,337.6 751.2,335.3 752.4,333.4 C753.6,331.5 755.4,331.1 756.8,330.7 C758.1,330.3 759.5,330.3 760.5,331.2 C761.5,332.1 762.1,331.2 762.6,336.0 C763.1,340.8 763.0,353.0 763.2,360.0 C763.4,367.0 763.5,373.1 764.0,378.0 C764.5,382.9 764.9,386.6 766.2,389.4 C767.5,392.2 770.0,393.7 772.0,395.0 C774.0,396.3 777.0,396.8 778.0,397.2" fill="none" stroke="#0d0d0d" stroke-width="1.45" stroke-linejoin="round"/>
<line x1="44.1" y1="312.2" x2="780.3" y2="312.2" stroke="#2a2a2a" stroke-width="1.6"/>
<line x1="780.3" y1="312.2" x2="780.3" y2="426.1" stroke="#2a2a2a" stroke-width="1.4"/>
<line x1="47.7" y1="312.2" x2="47.7" y2="426.1" stroke="#151515" stroke-width="1.4"/>
<line x1="44.1" y1="426.1" x2="780.3" y2="426.1" stroke="#111" stroke-width="1.7"/>
<text class="s" transform="translate(49.3,307.0) scale(1.1,1)" font-size="16.2">(C)</text>
</g>
<text class="t" font-size="8.4" text-anchor="end" transform="translate(55.1,430.6) rotate(-90)">12:00 a.m.</text>
<text class="t" font-size="8.4" text-anchor="end" transform="translate(72.2,430.6) rotate(-90)">03:00 a.m.</text>
<text class="t" font-size="8.4" text-anchor="end" transform="translate(87.1,430.6) rotate(-90)">06:00 a.m.</text>
<text class="t" font-size="8.4" text-anchor="end" transform="translate(102.1,430.6) rotate(-90)">09:00 a.m.</text>
<text class="t" font-size="8.4" text-anchor="end" transform="translate(117.1,430.6) rotate(-90)">12:00 p.m.</text>
<text class="t" font-size="8.4" text-anchor="end" transform="translate(132.0,430.6) rotate(-90)">03:00 p.m.</text>
<text class="t" font-size="8.4" text-anchor="end" transform="translate(147.0,430.6) rotate(-90)">06:00 p.m.</text>
<text class="t" font-size="8.4" text-anchor="end" transform="translate(162.0,430.6) rotate(-90)">09:00 p.m.</text>
<text class="t" font-size="8.4" text-anchor="end" transform="translate(176.9,430.6) rotate(-90)">12:00 a.m.</text>
<text class="t" font-size="8.4" text-anchor="end" transform="translate(191.9,430.6) rotate(-90)">03:00 a.m.</text>
<text class="t" font-size="8.4" text-anchor="end" transform="translate(206.8,430.6) rotate(-90)">06:00 a.m.</text>
<text class="t" font-size="8.4" text-anchor="end" transform="translate(221.8,430.6) rotate(-90)">09:00 a.m.</text>
<text class="t" font-size="8.4" text-anchor="end" transform="translate(236.8,430.6) rotate(-90)">12:00 p.m.</text>
<text class="t" font-size="8.4" text-anchor="end" transform="translate(251.7,430.6) rotate(-90)">03:00 p.m.</text>
<text class="t" font-size="8.4" text-anchor="end" transform="translate(266.7,430.6) rotate(-90)">06:00 p.m.</text>
<text class="t" font-size="8.4" text-anchor="end" transform="translate(281.7,430.6) rotate(-90)">09:00 p.m.</text>
<text class="t" font-size="8.4" text-anchor="end" transform="translate(296.6,430.6) rotate(-90)">12:00 a.m.</text>
<text class="t" font-size="8.4" text-anchor="end" transform="translate(311.6,430.6) rotate(-90)">03:00 a.m.</text>
<text class="t" font-size="8.4" text-anchor="end" transform="translate(326.6,430.6) rotate(-90)">06:00 a.m.</text>
<text class="t" font-size="8.4" text-anchor="end" transform="translate(341.5,430.6) rotate(-90)">09:00 a.m.</text>
<text class="t" font-size="8.4" text-anchor="end" transform="translate(356.5,430.6) rotate(-90)">12:00 p.m.</text>
<text class="t" font-size="8.4" text-anchor="end" transform="translate(371.5,430.6) rotate(-90)">03:00 p.m.</text>
<text class="t" font-size="8.4" text-anchor="end" transform="translate(386.4,430.6) rotate(-90)">06:00 p.m.</text>
<text class="t" font-size="8.4" text-anchor="end" transform="translate(401.4,430.6) rotate(-90)">09:00 p.m.</text>
<text class="t" font-size="8.4" text-anchor="end" transform="translate(416.4,430.6) rotate(-90)">12:00 a.m.</text>
<text class="t" font-size="8.4" text-anchor="end" transform="translate(431.3,430.6) rotate(-90)">03:00 a.m.</text>
<text class="t" font-size="8.4" text-anchor="end" transform="translate(446.3,430.6) rotate(-90)">06:00 a.m.</text>
<text class="t" font-size="8.4" text-anchor="end" transform="translate(461.3,430.6) rotate(-90)">09:00 a.m.</text>
<text class="t" font-size="8.4" text-anchor="end" transform="translate(476.2,430.6) rotate(-90)">12:00 p.m.</text>
<text class="t" font-size="8.4" text-anchor="end" transform="translate(491.2,430.6) rotate(-90)">03:00 p.m.</text>
<text class="t" font-size="8.4" text-anchor="end" transform="translate(506.1,430.6) rotate(-90)">06:00 p.m.</text>
<text class="t" font-size="8.4" text-anchor="end" transform="translate(521.1,430.6) rotate(-90)">09:00 p.m.</text>
<text class="t" font-size="8.4" text-anchor="end" transform="translate(536.1,430.6) rotate(-90)">12:00 a.m.</text>
<text class="t" font-size="8.4" text-anchor="end" transform="translate(551.0,430.6) rotate(-90)">03:00 a.m.</text>
<text class="t" font-size="8.4" text-anchor="end" transform="translate(566.0,430.6) rotate(-90)">06:00 a.m.</text>
<text class="t" font-size="8.4" text-anchor="end" transform="translate(581.0,430.6) rotate(-90)">09:00 a.m.</text>
<text class="t" font-size="8.4" text-anchor="end" transform="translate(595.9,430.6) rotate(-90)">12:00 p.m.</text>
<text class="t" font-size="8.4" text-anchor="end" transform="translate(610.9,430.6) rotate(-90)">03:00 p.m.</text>
<text class="t" font-size="8.4" text-anchor="end" transform="translate(625.9,430.6) rotate(-90)">06:00 p.m.</text>
<text class="t" font-size="8.4" text-anchor="end" transform="translate(640.8,430.6) rotate(-90)">09:00 p.m.</text>
<text class="t" font-size="8.4" text-anchor="end" transform="translate(655.8,430.6) rotate(-90)">12:00 a.m.</text>
<text class="t" font-size="8.4" text-anchor="end" transform="translate(670.8,430.6) rotate(-90)">03:00 a.m.</text>
<text class="t" font-size="8.4" text-anchor="end" transform="translate(685.7,430.6) rotate(-90)">06:00 a.m.</text>
<text class="t" font-size="8.4" text-anchor="end" transform="translate(700.7,430.6) rotate(-90)">09:00 a.m.</text>
<text class="t" font-size="8.4" text-anchor="end" transform="translate(715.7,430.6) rotate(-90)">12:00 p.m.</text>
<text class="t" font-size="8.4" text-anchor="end" transform="translate(730.6,430.6) rotate(-90)">03:00 p.m.</text>
<text class="t" font-size="8.4" text-anchor="end" transform="translate(745.6,430.6) rotate(-90)">06:00 p.m.</text>
<text class="t" font-size="8.4" text-anchor="end" transform="translate(760.6,430.6) rotate(-90)">09:00 p.m.</text>
<text class="t" font-size="8.4" text-anchor="end" transform="translate(775.5,430.6) rotate(-90)">12:00 a.m.</text>
<text class="t" font-size="12" font-weight="bold" text-anchor="middle" x="412.3" y="487.6">time</text>
<text class="t" font-size="12.4" font-weight="bold" text-anchor="middle" transform="translate(10.8,224.1) rotate(-90)">relative transcript level (%)</text>
</svg></body></html>
